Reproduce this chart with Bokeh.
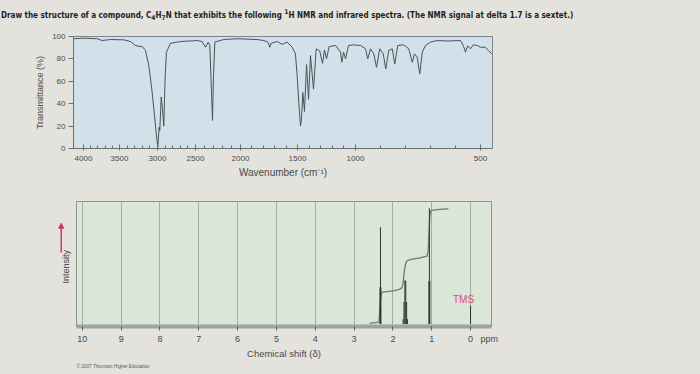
import math
import numpy as np
from bokeh.plotting import figure
from bokeh.models import (Range1d, FixedTicker, Arrow, NormalHead, Div, Title,
                          GlobalInlineStyleSheet)
from bokeh.layouts import column, row
from bokeh.embed import file_html
from bokeh.resources import INLINE
from bokeh.core.properties import value

# ---------------- texts ----------------
TITLE_HTML = ('Draw the structure of a compound, C<sub>4</sub>H<sub>7</sub>N that exhibits the following '
              '<sup>1</sup>H NMR and infrared spectra. (The NMR signal at delta 1.7 is a sextet.)')
IR_X_LABEL = "Wavenumber (cm\u207b\u00b9)"
IR_Y_LABEL = "Transmittance (%)"
NMR_X_LABEL = "Chemical shift (\u03b4)"
NMR_Y_LABEL = "Intensity"
NMR_UNIT = "ppm"
TMS_LABEL = "TMS"
COPYRIGHT = "\u00a9 2007 Thomson Higher Education"

# ---------------- IR data ----------------
ir_wavenumber = [4140, 3996, 3810, 3740, 3625, 3443, 3355, 3290, 3246, 3201, 3158, 3114, 3070, 3039,
                 3013, 2996, 2978, 2970, 2951, 2934, 2917, 2899, 2882, 2829, 2697, 2481, 2426, 2389,
                 2359, 2341, 2322, 2311, 2300, 2285, 2185, 2037, 1854, 1796, 1760, 1743, 1731, 1678,
                 1634, 1590, 1546, 1518, 1503, 1489, 1474, 1466, 1454, 1440, 1422, 1405, 1388, 1362,
                 1339, 1308, 1284, 1267, 1250, 1227, 1172, 1129, 1118, 1103, 1086, 1060, 1017, 980,
                 960, 951, 940, 927, 916, 903, 889, 879, 867, 853, 843, 831, 807, 787, 773, 764, 753,
                 743, 733, 720, 700, 673, 633, 580, 569, 560, 551, 540, 529, 513, 500, 480, 467, 453]
ir_transmittance = [98, 98.5, 98, 96.4, 97.3, 97, 95.5, 92, 91.3, 91, 87.5, 74, 50, 29,
                    11, 1, 19, 16, 46, 35, 20, 65, 86, 94, 95.5, 96.4, 95.5, 90.4,
                    95, 92, 50, 25, 65, 95, 97.3, 98, 97.3, 96.4, 95, 90.4, 94, 95.5,
                    93, 95, 90.4, 84.5, 65, 41, 20, 26, 50, 33, 75, 44, 83, 53,
                    89, 87, 76, 88, 80, 91, 92, 86, 77, 86, 80, 92, 92.5, 92,
                    89, 80, 89, 84.5, 72.5, 89, 84.5, 71, 87.5, 89, 75.5, 92, 92.5, 89, 77, 84.5, 81.5,
                    66.5, 86, 92, 95, 96.4, 96, 96.4, 92, 86, 91.6, 89, 92.5, 92, 90.4, 90.4, 87.5, 84.5]
ir_major_wavenumbers = [4000, 3500, 3000, 2500, 2000, 1500, 1000, 500]
ir_major_labels = ["4000", "3500", "3000", "2500", "2000", "1500", "1000", "500"]
ir_minor_wavenumbers = [3900, 3800, 3700, 3600, 3400, 3300, 3200, 3100, 2900, 2800, 2700, 2600,
                        2400, 2300, 2200, 2100, 1900, 1800, 1700, 1600, 1400, 1300, 1200, 1100,
                        900, 800, 700, 600]
ir_y_ticks = [0, 20, 40, 60, 80, 100]
# the printed wavenumber axis is not linear: position along the axis of each wavenumber
ir_axis_wavenumber = [4140, 4000, 3500, 3000, 2500, 2000, 1500, 1000, 500, 450]
ir_axis_position = [0, 10, 46, 84, 122, 167, 224, 282, 407, 419]

# ---------------- NMR data ----------------
nmr_peak_ppm = [2.332, 2.32, 2.308,
                1.7375, 1.7145, 1.6915, 1.6685, 1.6455, 1.6225,
                1.072, 1.06, 1.048,
                0.0]
nmr_peak_height = [30, 79, 30,
                   4, 18, 35.5, 35.5, 18, 4,
                   35, 94.5, 35,
                   15]
nmr_integral_ppm = [2.6, 2.36, 2.34, 2.32, 2.30, 2.27, 2.0, 1.85, 1.77, 1.74, 1.71, 1.68, 1.65,
                    1.62, 1.5, 1.3, 1.12, 1.09, 1.07, 1.05, 1.03, 1.0, 0.8, 0.57]
nmr_integral = [0.5, 1.5, 10, 20, 25, 26, 27, 28, 29.5, 33, 42, 48, 51,
                52, 53, 54, 55.5, 60, 75, 88, 92, 92.8, 93.5, 94]
nmr_ticks = [10, 9, 8, 7, 6, 5, 4, 3, 2, 1, 0]
nmr_tms_label_at = (0.18, 20)

PAGE_BG = "#e3e2dd"
TXT = "#4a4a4a"
FONT = "Liberation Sans"
NB = "\u00a0"


def ir_pos(wn):
    return np.interp(np.asarray(wn, dtype=float), ir_axis_wavenumber[::-1], ir_axis_position[::-1])


# ---------------- title ----------------
title = Div(text=('<div style="margin-left:1px;padding-top:5px;white-space:nowrap;'
                  'font-family:\'DejaVu Sans Condensed\',\'DejaVu Sans\';'
                  'font-weight:bold;font-size:8px;line-height:14px;color:#1e1e1e;">' + TITLE_HTML + '</div>'),
            width=700, height=24, margin=(0, 0, 0, 0))

# ---------------- IR figure ----------------
ir = figure(width=700, height=166, output_backend="svg", toolbar_location=None,
            x_range=Range1d(ir_axis_position[0], ir_axis_position[-1]), y_range=Range1d(0, 100),
            min_border_left=73, min_border_right=208, min_border_top=12, min_border_bottom=42,
            background_fill_color="#d1e0e9", border_fill_color=PAGE_BG,
            outline_line_color="#7d838a", outline_line_width=1)
ir.line(ir_pos(ir_wavenumber), ir_transmittance, line_color="#4c5258", line_width=1)
ir.grid.visible = False
major_pos = [float(v) for v in ir_pos(ir_major_wavenumbers)]
ir.xaxis.ticker = FixedTicker(ticks=major_pos, minor_ticks=[float(v) for v in ir_pos(ir_minor_wavenumbers)])
ir.xaxis.major_label_overrides = {p: l for p, l in zip(major_pos, ir_major_labels)}
ir.xaxis.axis_label = IR_X_LABEL
ir.yaxis.ticker = FixedTicker(ticks=ir_y_ticks)
ir.yaxis.axis_label = IR_Y_LABEL
for ax in (ir.xaxis[0], ir.yaxis[0]):
    ax.axis_line_color = "#6a6f74"
    ax.major_tick_line_color = "#6a6f74"
    ax.minor_tick_line_color = "#6a6f74"
    ax.major_label_text_font = FONT
    ax.major_label_text_font_size = "8px"
    ax.major_label_text_color = TXT
    ax.axis_label_text_font = FONT
    ax.axis_label_text_font_size = "9px"
    ax.axis_label_text_font_style = "normal"
    ax.axis_label_text_color = TXT
ir.xaxis.axis_label_text_font_size = "10px"
ir.xaxis.major_tick_in = 4
ir.xaxis.major_tick_out = 2
ir.xaxis.minor_tick_in = 3
ir.xaxis.minor_tick_out = 0
ir.xaxis.major_label_standoff = 5
ir.xaxis.axis_label_standoff = 3
ir.yaxis.major_tick_in = 0
ir.yaxis.major_tick_out = 5
ir.yaxis.minor_tick_line_color = None
ir.yaxis.major_label_standoff = 3
ir.yaxis.axis_label_standoff = 4

# ---------------- NMR figure ----------------
nmr = figure(width=624, height=184, output_backend="svg", toolbar_location=None,
             x_range=Range1d(10.15, -0.54), y_range=Range1d(-2, 100),
             min_border_left=0, min_border_right=209, min_border_top=11, min_border_bottom=48,
             background_fill_color="#dae6d6", border_fill_color=PAGE_BG,
             outline_line_color="#8c938c", outline_line_width=1)
nmr.ygrid.visible = False
nmr.xgrid.ticker = FixedTicker(ticks=nmr_ticks)
nmr.xgrid.grid_line_color = "#a4aca3"
nmr.xgrid.grid_line_width = 1
nmr.yaxis.visible = False
nmr.xaxis.ticker = FixedTicker(ticks=nmr_ticks)
# "ppm" printed after the 0 label; leading no-break spaces keep the "0" centred on its tick
nmr.xaxis.major_label_overrides = {0: NB * 10 + "0" + NB * 3 + NMR_UNIT}
nmr.xaxis.axis_label = NMR_X_LABEL
xa = nmr.xaxis[0]
xa.axis_line_color = "#9ea39e"
xa.axis_line_width = 4
xa.major_tick_line_color = "#5a5f5a"
xa.major_tick_in = 0
xa.major_tick_out = 4
xa.minor_tick_line_color = None
xa.major_label_standoff = 3
xa.major_label_text_font = FONT
xa.major_label_text_font_size = "9px"
xa.major_label_text_color = TXT
xa.axis_label_text_font = FONT
xa.axis_label_text_font_size = "9.5px"
xa.axis_label_text_font_style = "normal"
xa.axis_label_text_color = TXT
xa.axis_label_standoff = 1

nmr.line(nmr_integral_ppm, nmr_integral, line_color="#70757a", line_width=1.3)
nmr.segment(x0=nmr_peak_ppm, y0=[0] * len(nmr_peak_ppm), x1=nmr_peak_ppm, y1=nmr_peak_height,
            line_color="#2f3330", line_width=1.0)
nmr.text(x=[nmr_tms_label_at[0]], y=[nmr_tms_label_at[1]], text=[TMS_LABEL], text_align="center",
         text_baseline="middle", text_font=value(FONT), text_font_size="10px", text_color="#e2457e")
nmr.add_layout(Title(text=COPYRIGHT, align="left", offset=0, standoff=0,
                     text_font=FONT, text_font_size="4.7px", text_font_style="normal",
                     text_color="#555555"), "below")

# left strip holding the rotated "Intensity" label and its red arrow
strip = figure(width=76, height=184, output_backend="svg", toolbar_location=None,
               x_range=Range1d(0, 76), y_range=Range1d(0, 184),
               min_border_left=0, min_border_right=0, min_border_top=0, min_border_bottom=0,
               background_fill_color=PAGE_BG, border_fill_color=PAGE_BG, outline_line_color=None)
strip.axis.visible = False
strip.grid.visible = False
strip.text(x=[65], y=[88], text=[NMR_Y_LABEL], angle=math.pi / 2, text_align="center",
           text_baseline="middle", text_font=value(FONT), text_font_size="9px", text_color=TXT)
strip.add_layout(Arrow(x_start=60.7, y_start=109, x_end=60.7, y_end=152,
                       line_color="#d6336c", line_width=1.5,
                       end=NormalHead(size=5, line_color="#d6336c", fill_color="#d6336c")))

layout = column(title, ir, row(strip, nmr, spacing=0), spacing=0,
                stylesheets=[GlobalInlineStyleSheet(css="html, body { background-color: %s; }" % PAGE_BG)])

open("out.html", "w").write(file_html(layout, INLINE))
